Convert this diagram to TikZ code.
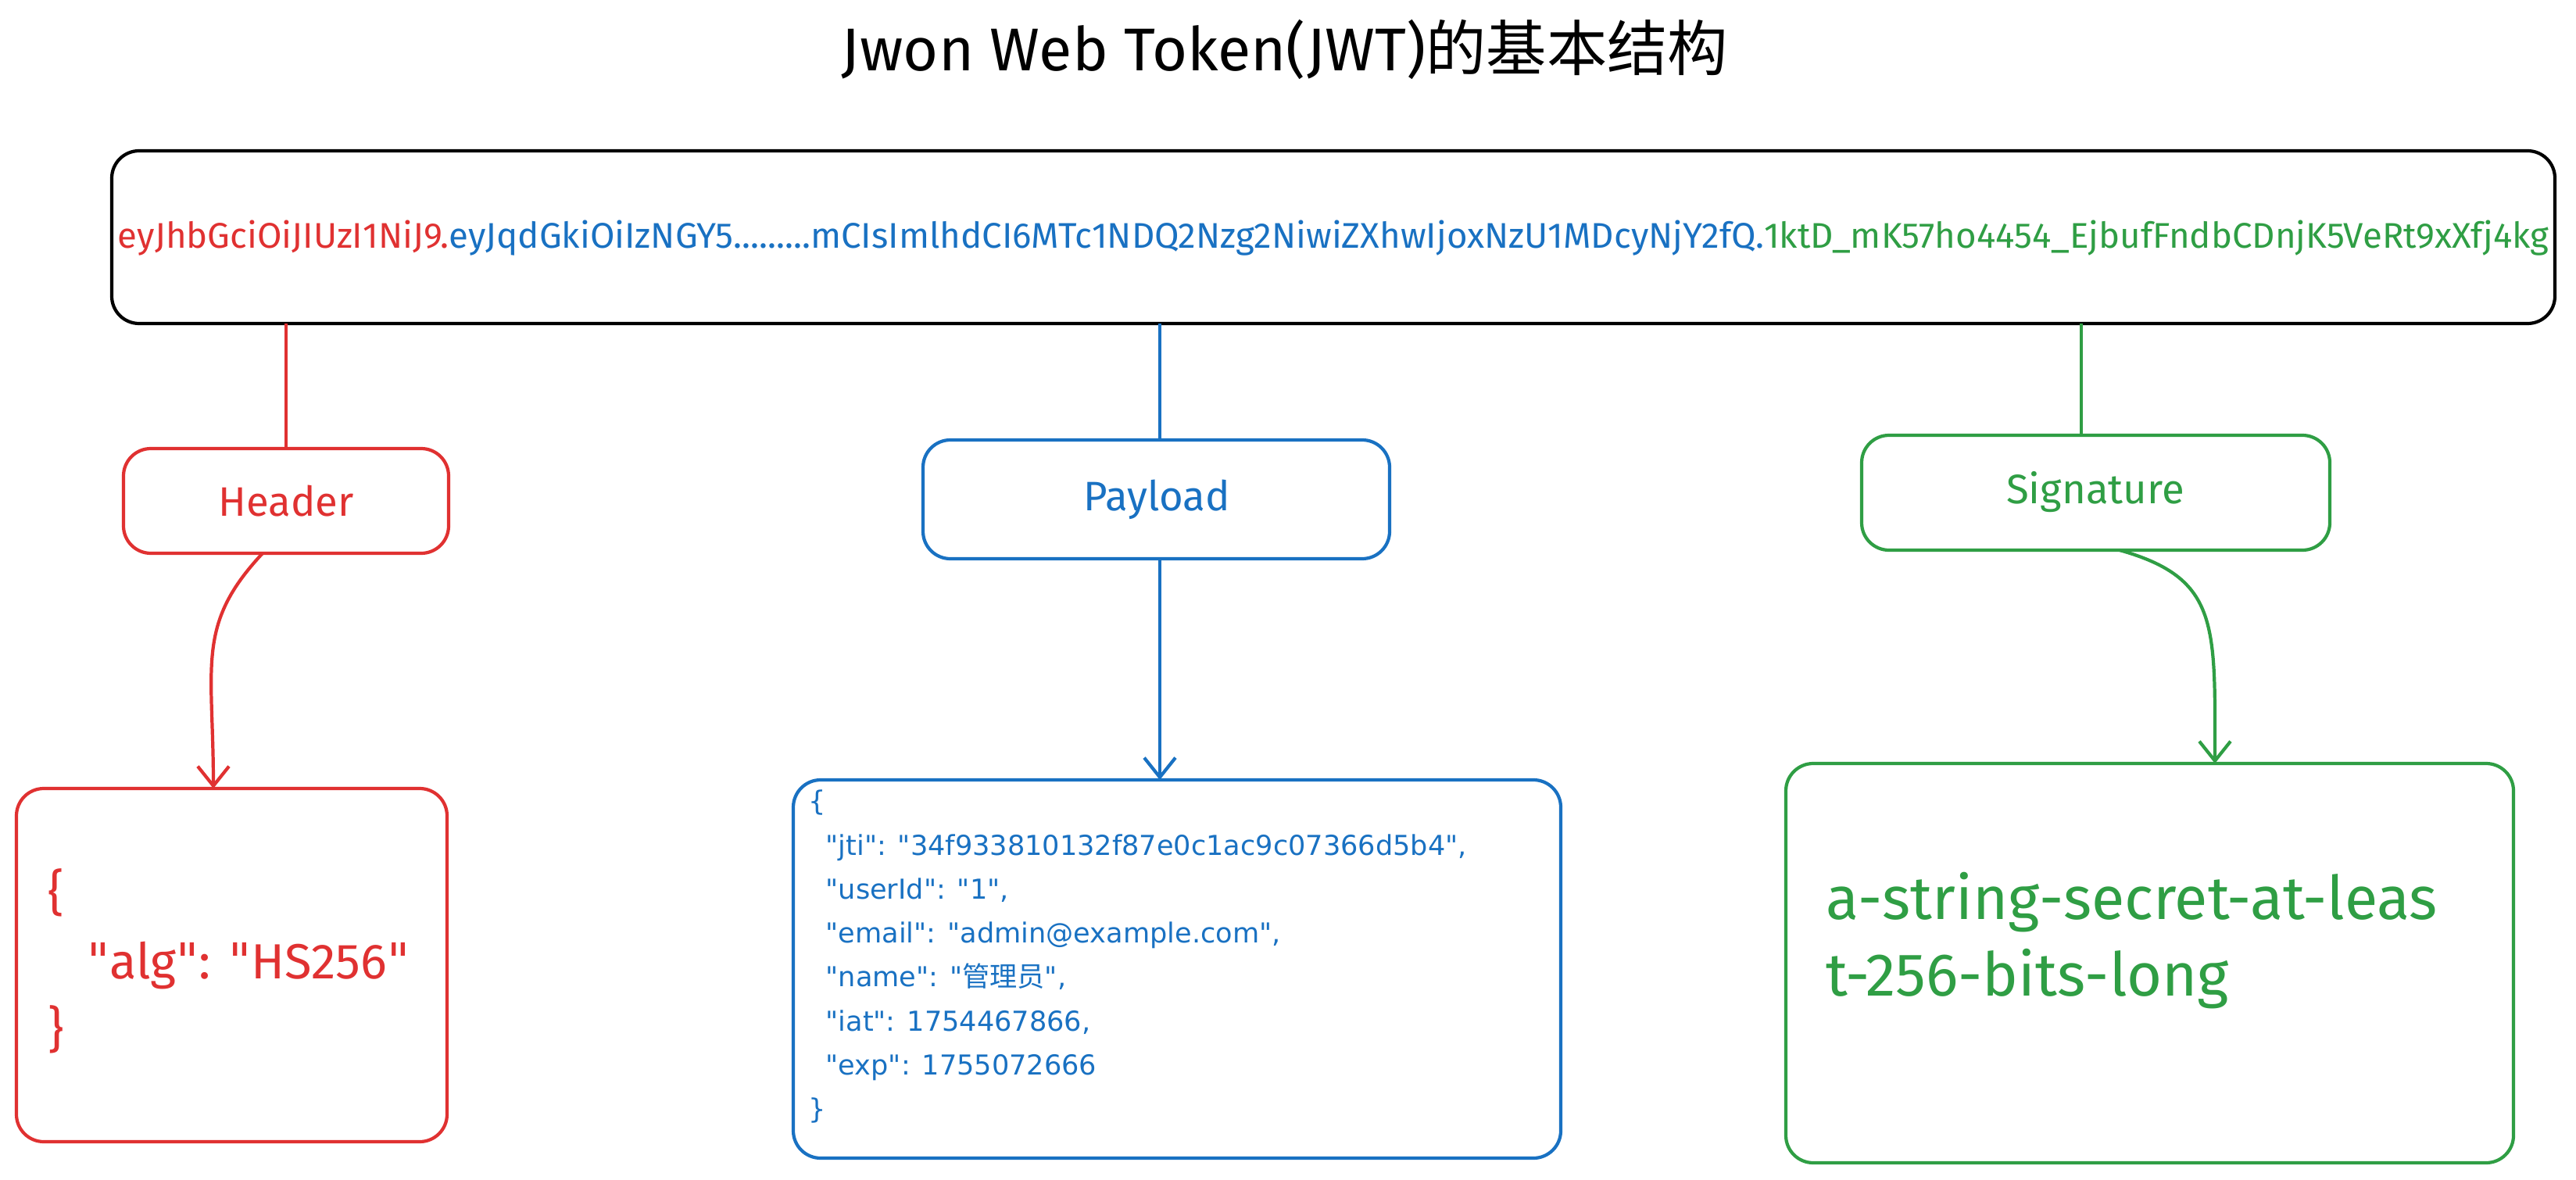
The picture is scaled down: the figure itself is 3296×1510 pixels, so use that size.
\documentclass[tikz,border=0pt]{standalone}
\usepackage{fontspec}
\setmainfont{Fira Sans}
\newfontfamily\cjk{Noto Sans CJK SC}
\newfontfamily\wide{DejaVu Sans}
\usetikzlibrary{arrows.meta}
\definecolor{cred}{HTML}{E03131}
\definecolor{cblue}{HTML}{1971C2}
\definecolor{cgreen}{HTML}{2F9E44}
\newcommand{\qq}{{\wide\char"22\relax}}
\begin{document}
\begin{tikzpicture}[x=0.02cm,y=-0.02cm,
  box/.style={draw,line width=2.4pt,rounded corners=0.7cm},
  lbl/.style={font=\fontsize{30}{36}\selectfont},
  arr/.style={line width=2.4pt,-{Straight Barb[length=0.5cm,width=0.8cm]}}]
\useasboundingbox (0,0) rectangle (3296,1510);
\node[font=\fontsize{44}{50}\selectfont] (title) at (1644,63) {Jwon Web Token(JWT){\cjk 的基本结构}};
\draw[box,black] (143,193) rectangle (3269,414);
\coordinate (tok) at (1706,305);
\node (token) at (tok) {\resizebox{3110\dimexpr0.02cm\relax}{!}{\textcolor{cred}{eyJhbGciOiJIUzI1NiJ9.}\textcolor{cblue}{eyJqdGkiOiIzNGY5.........mCIsImlhdCI6MTc1NDQ2Nzg2NiwiZXhwIjoxNzU1MDcyNjY2fQ.}\textcolor{cgreen}{1ktD\_mK57ho4454\_EjbufFndbCDnjK5VeRt9xXfj4kg}}};
% label boxes
\draw[box,cred] (158,574) rectangle (574,708);
\node[lbl,text=cred] (hdr) at (366,641) {Header};
\draw[box,cblue] (1181,563) rectangle (1778,715);
\node[lbl,text=cblue] (pay) at (1480,639) {Payload};
\draw[box,cgreen] (2382,557) rectangle (2981,704);
\node[lbl,text=cgreen] (sig) at (2681,630) {Signature};
\coordinate (t1) at (366,414); \coordinate (h1) at (366,574);
\coordinate (t2) at (1484,414); \coordinate (p1) at (1484,563);
\coordinate (t3) at (2663,414); \coordinate (s1) at (2663,557);
\draw[cred,line width=2.4pt] (t1) -- (h1);
\draw[cblue,line width=2.4pt] (t2) -- (p1);
\draw[cgreen,line width=2.4pt] (t3) -- (s1);
% bottom boxes
\draw[box,cred] (21,1009) rectangle (572,1461);
\node[anchor=west,align=left,text=cred,font=\fontsize{36}{50}\selectfont] (hj) at (55,1230) {\{\\\ \ \ \qq alg\qq: \qq HS256\qq\\\}};
\draw[box,cblue] (1015,998) rectangle (1997,1482);
\node[anchor=north west,align=left,text=cblue,font=\wide\fontsize{20}{32}\selectfont] (pj) at (1028,1005) {\{\\
\ \ \qq jti\qq: \qq 34f933810132f87e0c1ac9c07366d5b4\qq,\\
\ \ \qq userId\qq: \qq 1\qq,\\
\ \ \qq email\qq: \qq admin@example.com\qq,\\
\ \ \qq name\qq: \qq{\cjk 管理员}\qq,\\
\ \ \qq iat\qq: 1754467866,\\
\ \ \qq exp\qq: 1755072666\\
\}};
\draw[box,cgreen] (2285,977) rectangle (3216,1488);
\node[anchor=north west,align=left,text=cgreen,font=\fontsize{44}{56}\selectfont] (sj) at (2330,1110) {a-string-secret-at-leas\\t-256-bits-long};
\coordinate (h2) at (336,708); \coordinate (hb) at (273,1009);
\coordinate (p2) at (1484,715); \coordinate (pb) at (1484,998);
\coordinate (s2) at (2712,704); \coordinate (sb) at (2834,977);
\draw[arr,cred] (h2) .. controls (250,800) and (273,850) .. (hb);
\draw[arr,cblue] (p2) -- (pb);
\draw[arr,cgreen] (s2) .. controls (2840,740) and (2834,800) .. (sb);
\end{tikzpicture}
\end{document}
